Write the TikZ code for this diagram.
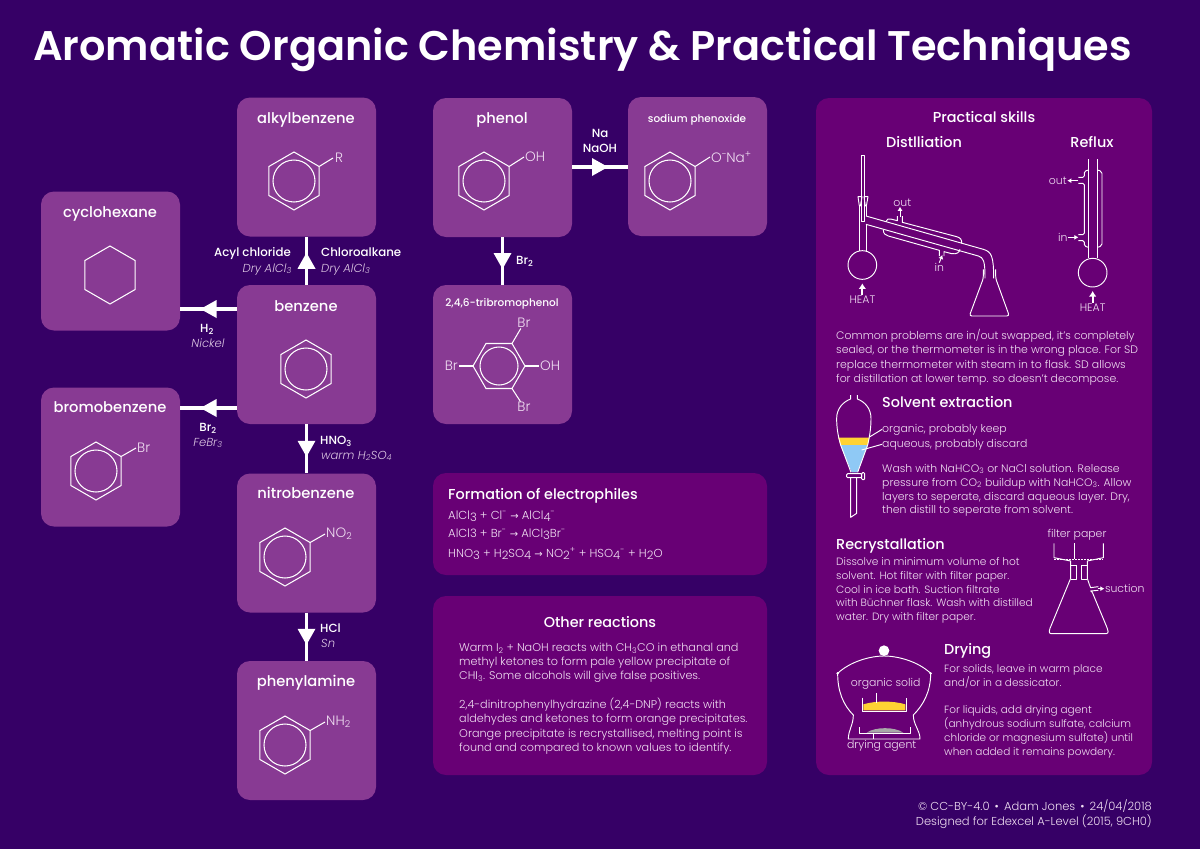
\documentclass[tikz,border=0pt]{standalone}
\usepackage{fontspec}
\setmainfont{Poppins}[UprightFont=* Light,BoldFont=* Medium,ItalicFont=* Light Italic,BoldItalicFont=* Medium Italic]
\newfontfamily\titlefont{Poppins}[UprightFont=* SemiBold]
\newfontfamily\arrowfont{DejaVu Sans}
\usetikzlibrary{arrows.meta,decorations.markings,calc}
\definecolor{bgc}{HTML}{360066}
\definecolor{boxc}{HTML}{883A93}
\definecolor{panelc}{HTML}{680075}
\definecolor{soft}{HTML}{F0DFF2}
\definecolor{softer}{HTML}{DCC6E2}
\definecolor{yel}{HTML}{FFD233}
\definecolor{blu}{HTML}{8FC9F5}
\definecolor{gry}{HTML}{A8A8A8}
\newcommand\sbb[1]{\textsubscript{#1}}
\newcommand\spp[1]{\textsuperscript{#1}}
\newcommand\dn[1]{\raisebox{-2pt}{#1}}
\newcommand\arr{{\arrowfont\fontsize{10}{10}\selectfont →}}
\newcommand\pstrut{\rule{0pt}{9pt}}
\tikzset{
 x=1pt,y=-1pt,
 compound/.style={rectangle,fill=boxc,rounded corners=13pt,minimum width=139pt,minimum height=139pt,inner sep=0pt},
 panel/.style={rectangle,fill=panelc,rounded corners=13pt,inner sep=0pt},
 boxtitle/.style={anchor=base,text=white,inner sep=0pt,font=\bfseries\fontsize{14.7}{16}\selectfont},
 smalltitle/.style={anchor=base,text=white,inner sep=0pt,font=\bfseries\fontsize{10.5}{12}\selectfont},
 head/.style={anchor=base west,text=white,inner sep=0pt,font=\bfseries\fontsize{14.4}{16}\selectfont},
 chead/.style={anchor=base,text=white,inner sep=0pt,font=\bfseries\fontsize{14.4}{16}\selectfont},
 reagent/.style={anchor=base,text=white,inner sep=0pt,font=\bfseries\fontsize{11.8}{13}\selectfont},
 cond/.style={anchor=base,text=softer,inner sep=0pt,font=\itshape\fontsize{11.6}{13}\selectfont},
 body/.style={anchor=base west,text=soft,inner sep=0pt,font=\fontsize{10.9}{14}\selectfont},
 para/.style={anchor=north west,text=soft,inner sep=0pt,align=left,font=\fontsize{10.8}{14}\selectfont},
 mol/.style={text=soft,inner sep=1pt,font=\fontsize{13.6}{14}\selectfont},
 applabel/.style={text=soft,inner sep=0.5pt,font=\fontsize{10.9}{12}\selectfont},
 bond/.style={draw=white,line width=1.05pt,line join=miter},
 rxn/.style={draw=white,line width=3.8pt,postaction={decorate},decoration={markings,mark=at position 0.5 with {\fill[white] (8pt,0pt) -- (-8pt,9pt) -- (-8pt,-9pt) -- cycle;}}},
 app/.style={draw=white,line width=0.95pt,line join=round},
 fat/.style={draw=white,line width=1.7pt,-{Latex[length=5.5pt,width=7.5pt]}},
 thin arrow/.style={draw=white,line width=0.95pt,-{Latex[length=4pt,width=5pt]}},
 zoomed/.style={x=0.33333pt,y=-0.33333pt},
}
\newcommand\bring[3]{\begin{scope}[shift={(#2,#3)}]
 \draw[bond] (90:29pt)--(30:29pt)--(-30:29pt)--(-90:29pt)--(-150:29pt)--(150:29pt)--cycle;
 \draw[bond] (0,0) circle (21pt);
 \coordinate (#1) at (30:29pt);
\end{scope}}
\begin{document}
\begin{tikzpicture}
\useasboundingbox (0,0) rectangle (1200,849);
\fill[bgc] (0,0) rectangle (1200,849);
\node[anchor=base west,text=white,inner sep=0pt,font=\titlefont\fontsize{41.4}{44}\selectfont] (title) at (33,60) {Aromatic Organic Chemistry \& Practical Techniques};
% compound boxes
\node[compound] (alkyl) at (306.5,167) {};
\node[compound] (cyclo) at (110.5,261) {};
\node[compound] (benzene) at (306.5,354.5) {};
\node[compound] (bromo) at (110.5,457) {};
\node[compound] (nitro) at (306.5,543) {};
\node[compound] (amine) at (306.5,730.5) {};
\node[compound] (phenol) at (502.5,167.5) {};
\node[compound] (phenoxide) at (697.5,166.5) {};
\node[compound] (tribromo) at (502.5,354.5) {};
\node[panel,minimum width=334pt,minimum height=102pt] (formation) at (600,524) {};
\node[panel,minimum width=334pt,minimum height=179pt] (other) at (600,685.5) {};
\node[panel,minimum width=336pt,minimum height=677pt] (practical) at (984,436.5) {};
% compound titles
\node[boxtitle] (talkyl) at (306,123) {alkylbenzene};
\node[boxtitle] (tcyclo) at (110,217) {cyclohexane};
\node[boxtitle] (tbenz) at (306,311) {benzene};
\node[boxtitle] (tbromo) at (110,412) {bromobenzene};
\node[boxtitle] (tnitro) at (306,498) {nitrobenzene};
\node[boxtitle] (tamine) at (306,686) {phenylamine};
\node[boxtitle] (tphenol) at (502,123) {phenol};
\node[smalltitle] (tphenox) at (697,122) {sodium phenoxide};
\node[smalltitle] (ttri) at (502,306) {2,4,6-tribromophenol};
% molecules
\bring{va}{294}{181}
\node[mol,anchor=west,inner sep=2pt] (lr) at (333,158) {R};
\draw[bond] (va) -- (lr.west);
\begin{scope}[shift={(110,275)}]
 \draw[bond] (90:29pt)--(30:29pt)--(-30:29pt)--(-90:29pt)--(-150:29pt)--(150:29pt)--cycle;
\end{scope}
\bring{vb}{306}{369}
\bring{vc}{96}{471}
\node[mol,anchor=west] (lbr) at (136,448) {Br};
\draw[bond] (vc) -- (lbr.west);
\bring{vd}{285}{557}
\node[mol,anchor=west] (lno) at (325,534) {NO\sbb{2}};
\draw[bond] (vd) -- (lno.west);
\bring{ve}{285}{745}
\node[mol,anchor=west] (lnh) at (325,722) {NH\sbb{2}};
\draw[bond] (ve) -- (lnh.west);
\bring{vf}{484}{181}
\node[mol,anchor=west] (loh) at (524,157) {OH};
\draw[bond] (vf) -- (loh.west);
\bring{vg}{670}{181}
\node[mol,anchor=west] (lona) at (710,157) {O\spp{-}\kern-1ptNa\spp{+}};
\draw[bond] (vg) -- (lona.west);
% tribromophenol
\begin{scope}[shift={(499,366)}]
 \draw[bond] (0:26pt)--(60:26pt)--(120:26pt)--(180:26pt)--(240:26pt)--(300:26pt)--cycle;
 \draw[bond] (0,0) circle (19pt);
 \coordinate (tv1) at (60:26pt);
 \coordinate (tv2) at (300:26pt);
 \coordinate (tv3) at (180:26pt);
 \coordinate (tv4) at (0:26pt);
\end{scope}
\node[mol,inner sep=0.5pt] (tbr1) at (524,323) {Br};
\node[mol,inner sep=0.5pt] (tbr2) at (524,407) {Br};
\node[mol,anchor=east] (tbr3) at (459,366) {Br};
\node[mol,anchor=west] (toh) at (539,366) {OH};
\draw[bond] (tv1) -- (tbr1);
\draw[bond] (tv2) -- (tbr2);
\draw[bond] (tv3) -- (tbr3.east);
\draw[bond] (tv4) -- (toh.west);
% reaction arrows
\coordinate (yh) at (0,309);
\coordinate (ybr) at (0,408);
\draw[rxn] (benzene.north) -- (alkyl.south);
\draw[rxn] (benzene.west |- yh) -- (cyclo.east |- yh);
\draw[rxn] (benzene.west |- ybr) -- (bromo.east |- ybr);
\draw[rxn] (benzene.south) -- (nitro.north);
\draw[rxn] (nitro.south) -- (amine.north);
\draw[rxn] (phenol.south) -- (tribromo.north);
\coordinate (yn) at (0,167);
\draw[rxn] (phenol.east |- yn) -- (phenoxide.west |- yn);
% reagents
\node[reagent,anchor=base east] (r1) at (291,256) {Acyl chloride};
\node[cond,anchor=base east] (c1) at (292,272) {Dry AlCl\sbb{3}};
\node[reagent,anchor=base west] (r2) at (321,256) {Chloroalkane};
\node[cond,anchor=base west] (c2) at (321,272) {Dry AlCl\sbb{3}};
\node[reagent] (r3) at (207,332) {H\sbb{2}};
\node[cond] (c3) at (208,347) {Nickel};
\node[reagent] (r4) at (208,431) {Br\sbb{2}};
\node[cond] (c4) at (208,446) {FeBr\sbb{3}};
\node[reagent,anchor=base west] (r5) at (320,444) {HNO\sbb{3}};
\node[cond,anchor=base west] (c5) at (321,459) {warm H\sbb{2}SO\sbb{4}};
\node[reagent,anchor=base west] (r6) at (320,632) {HCl};
\node[cond,anchor=base west] (c6) at (321,647) {Sn};
\node[reagent] (r7) at (600,137) {Na};
\node[reagent] (r8) at (600,152) {NaOH};
\node[reagent,anchor=base west] (r9) at (516,264) {Br\sbb{2}};
% formation
\node[head] (fh) at (448,499) {Formation of electrophiles};
\node[body,font=\fontsize{11.6}{14}\selectfont] (f1) at (448,519) {AlCl\dn{3} + Cl\spp{-} \arr{} AlCl\dn{4}\spp{-}};
\node[body,font=\fontsize{11.6}{14}\selectfont] (f2) at (448,537) {AlCl3 + Br\spp{-} \arr{} AlCl\dn{3}Br\spp{-}};
\node[body,font=\fontsize{11.6}{14}\selectfont] (f3) at (448,557) {HNO\dn{3} + H\dn{2}SO\dn{4} \arr{} NO\dn{2}\spp{+} + HSO\dn{4}\spp{-} + H\dn{2}O};
% other reactions
\node[chead] (oh) at (600,627) {Other reactions};
\node[para,font=\fontsize{11.2}{14.3}\selectfont] (o1) at (459,642) {\pstrut Warm I\sbb{2} + NaOH reacts with CH\sbb{3}CO in ethanal and\\methyl ketones to form pale yellow precipitate of\\CHI\sbb{3}. Some alcohols will give false positives.\\[14.3pt]2,4-dinitrophenylhydrazine (2,4-DNP) reacts with\\aldehydes and ketones to form orange precipitates.\\Orange precipitate is recrystallised, melting point is\\found and compared to known values to identify.};
% practical
\node[chead] (ph) at (984,122) {Practical skills};
\node[chead] (dh) at (924,147) {Distlliation};
\node[chead] (rh) at (1092,147) {Reflux};
\begin{scope}[shift={(820,130)},zoomed]
 % distillation
 \draw[app] (125,75) -- (132,75) -- (132,275) -- (125,275) -- cycle;
 \draw[app] (114,200) -- (126,200) -- (121,228) -- (118,228) -- cycle;
 \draw[app] (132,200) -- (144,200) -- (139,228) -- (136,228) -- cycle;
 \draw[app] (118,228) -- (118,364);
 \draw[app] (138,228) -- (138,258);
 \draw[app] (138,283) -- (138,364);
 \draw[app] (127,405) circle (43);
 \draw[app] (138,258) -- (490,358) .. controls (515,365) and (521,380) .. (521,445);
 \draw[app] (138,283) -- (475,378) .. controls (490,383) and (495,390) .. (495,445);
 \draw[app] (198,275) .. controls (200,268) and (205,265) .. (212,267) -- (232,272) -- (232,258);
 \draw[app] (247,258) -- (247,277) -- (410,320) .. controls (422,323) and (426,330) .. (425,340);
 \draw[app] (190,300) .. controls (190,312) and (197,315) .. (205,318) -- (358,361) -- (358,378);
 \draw[app] (372,378) -- (372,365) -- (395,371) .. controls (410,373) and (418,368) .. (420,358);
 \coordinate (outa) at (240,262);
 \coordinate (ina) at (358,398);
 \node[applabel] (outl) at (247,217) {out};
 \node[applabel] (inl) at (358,412) {in};
 \draw[thin arrow] (outa) -- (outl.south -| outa);
 \draw[thin arrow] (ina) -- (367,375);
 \draw[app,rounded corners=2.5pt] (490,418) -- (490,445) -- (448,558) -- (568,558) -- (527,445) -- (527,418);
 \node[applabel] (heat1) at (127,510) {HEAT};
 \coordinate (h1) at (127,460);
 \draw[fat] (heat1.north) -- (h1);
 % reflux
 \draw[app] (805,88) -- (805,385);
 \draw[app] (832,88) -- (832,385);
 \draw[app] (818,428) circle (43);
 \draw[app,rounded corners=1.5pt] (805,120) -- (793,124) -- (793,142) -- (775,142);
 \draw[app,rounded corners=1.5pt] (775,160) -- (793,160) -- (793,314) -- (775,314);
 \draw[app,rounded corners=1.5pt] (775,332) -- (793,332) -- (793,348) -- (805,352);
 \draw[app,rounded corners=2pt] (832,120) -- (846,124) -- (846,348) -- (832,352);
 \node[applabel,anchor=east] (outr) at (742,152) {out};
 \node[applabel,anchor=east] (inr) at (745,322) {in};
 \coordinate (oa) at (775,152);
 \coordinate (ia) at (775,322);
 \draw[thin arrow] (oa) -- (outr.east);
 \draw[thin arrow] (inr.east) -- (ia);
 \node[applabel] (heat2) at (818,533) {HEAT};
 \coordinate (h2) at (818,483);
 \draw[fat] (heat2.north) -- (h2);
\end{scope}
\node[para,font=\fontsize{10.9}{14.4}\selectfont] (cp) at (836,329) {\pstrut Common problems are in/out swapped, it's completely\\sealed, or the thermometer is in the wrong place. For SD\\replace thermometer with steam in to flask. SD allows\\for distillation at lower temp. so doesn't decompose.};
% solvent extraction
\begin{scope}[shift={(820,385)},zoomed]
 \fill[yel] (55,158) -- (148,158) -- (143,180) -- (61,180) -- cycle;
 \fill[blu] (61,180) -- (143,180) -- (112,262) -- (95,262) -- cycle;
 \draw[app] (92,30) -- (92,42) .. controls (70,50) and (50,70) .. (50,100) .. controls (50,125) and (53,150) .. (62,180) -- (93,262);
 \draw[app] (112,30) -- (112,42) .. controls (134,50) and (153,70) .. (153,100) .. controls (153,125) and (150,150) .. (143,180) -- (113,262);
 \draw[app,rounded corners=1pt] (80,266) rectangle (125,278);
 \draw[app,rounded corners=1pt] (125,263) rectangle (134,284);
 \draw[app] (92,278) -- (92,397) -- (110,385) -- (110,278);
 \coordinate (so1) at (150,155);
 \coordinate (so2) at (125,195);
\end{scope}
\node[head] (se) at (882,407) {Solvent extraction};
\node[body] (sl1) at (882,432) {organic, probably keep};
\node[body] (sl2) at (882,447) {aqueous, probably discard};
\draw[app] (so1) -- (sl1.west);
\draw[app] (so2) -- (sl2.west);
\node[para,font=\fontsize{10.85}{13.9}\selectfont] (sb) at (882,463) {\pstrut Wash with NaHCO\sbb{3} or NaCl solution. Release\\pressure from CO\sbb{2} buildup with NaHCO\sbb{3}. Allow\\layers to seperate, discard aqueous layer. Dry,\\then distill to seperate from solvent.};
% recrystallation
\node[head] (rc) at (836,549) {Recrystallation};
\node[para,font=\fontsize{10.6}{13.9}\selectfont] (rb) at (836,556) {\pstrut Dissolve in minimum volume of hot\\solvent. Hot filter with filter paper.\\Cool in ice bath. Suction filtrate\\with Büchner flask. Wash with distilled\\water. Dry with filter paper.};
\begin{scope}[shift={(820,385)},zoomed]
 \node[applabel] (fp) at (771,450) {filter paper};
 \draw[app] (702,475) -- (702,518) -- (752,528) -- (752,580) -- (690,730);
 \draw[app] (850,475) -- (850,518) -- (802,528) -- (802,580) -- (808,598);
 \draw[app] (762,475) -- (762,522);
 \draw[app,dashed,dash pattern=on 2pt off 1pt] (702,522) -- (850,522);
 \draw[app] (768,540) -- (768,582) -- (752,582);
 \draw[app] (768,540) -- (752,540);
 \draw[app] (785,540) -- (785,582) -- (802,582);
 \draw[app] (785,540) -- (802,540);
 \draw[app,rounded corners=2.5pt] (690,730) -- (686,746) -- (866,746) -- (862,730) -- (817,622);
 \draw[app] (808,598) -- (812,608) -- (835,605);
 \draw[app] (817,622) -- (812,618) -- (835,616);
 \node[applabel,anchor=west] (suc) at (853,611) {suction};
 \coordinate (sa) at (835,611);
 \draw[thin arrow] (sa) -- (suc.west);
\end{scope}
% drying
\node[head] (dr) at (944,654) {Drying};
\node[para,font=\fontsize{10.5}{13.9}\selectfont] (db) at (944,663) {\pstrut For solids, leave in warm place\\and/or in a dessicator.\\[13.9pt]For liquids, add drying agent\\(anhydrous sodium sulfate, calcium\\chloride or magnesium sulfate) until\\when added it remains powdery.};
\begin{scope}[shift={(820,635)},zoomed]
 \fill[white] (192,47) circle (16);
 \fill[white] (53,115) circle (4);
 \fill[white] (332,115) circle (4);
 \draw[app] (53,115) .. controls (90,80) and (150,63) .. (192,63) .. controls (235,63) and (295,80) .. (332,115);
 \draw[app] (53,115) .. controls (53,170) and (70,210) .. (100,240) .. controls (100,270) and (85,285) .. (85,312) -- (300,312) .. controls (300,285) and (280,270) .. (280,240) .. controls (310,210) and (332,170) .. (332,115);
 \fill[yel] (130,208) .. controls (165,197) and (220,197) .. (256,208) -- (256,226) -- (130,226) -- cycle;
 \draw[app] (127,188) -- (127,228) -- (258,228) -- (258,188);
 \fill[gry] (140,293) .. controls (165,275) and (225,275) .. (250,293) -- cycle;
 \draw[app] (117,276) -- (117,295) -- (270,295) -- (270,276);
 \node[applabel] (os) at (197,148) {organic solid};
 \fill[panelc] (75,318) rectangle (300,346);
 \node[applabel] (da) at (185,332) {drying agent};
 \coordinate (osp) at (168,205);
 \coordinate (dap) at (160,295);
 \draw[app] (168,175) -- (osp);
 \draw[app] (dap) -- (da.north -| dap);
\end{scope}
% footer
\node[anchor=north east,text=soft,inner sep=0pt,align=right,font=\fontsize{11.5}{15}\selectfont] (ft) at (1152,799) {\pstrut © CC-BY-4.0 \,•\, Adam Jones \,•\, 24/04/2018\\Designed for Edexcel A-Level (2015, 9CH0)};
\end{tikzpicture}
\end{document}
